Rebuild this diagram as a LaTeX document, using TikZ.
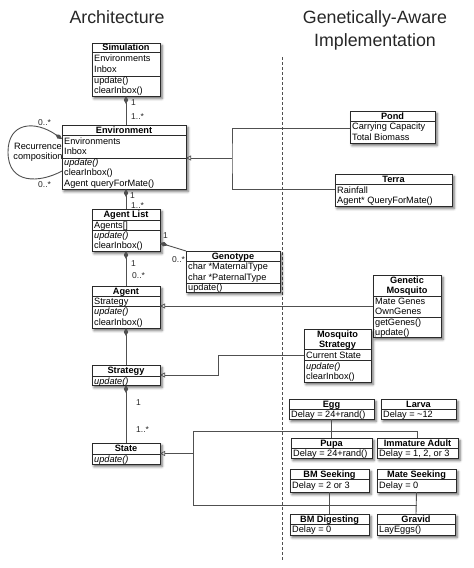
\documentclass[tikz,border=0pt]{standalone}
\usepackage{fontspec}
\setmainfont{Liberation Sans}
\usetikzlibrary{arrows.meta,shadows.blur,calc}
\definecolor{ln}{HTML}{505050}
\definecolor{bd}{HTML}{2A2A2A}
\tikzset{
  umlbox/.style={draw=bd, line width=0.9pt, fill=white, inner sep=0pt, outer sep=0pt,
    blur shadow={shadow xshift=2pt, shadow yshift=-2.5pt, shadow blur radius=2.5pt, shadow opacity=60}},
  sepline/.style={draw=bd, line width=0.8pt},
  row/.style={anchor=west, inner sep=0pt, text height=6.4pt, text depth=0pt, text=black,
    font=\fontsize{9.2}{10}\selectfont},
  ttl/.style={anchor=center, inner sep=0pt, text height=6.4pt, text depth=0pt, text=black,
    font=\bfseries\fontsize{9.2}{10}\selectfont},
  conn/.style={draw=ln, line width=0.9pt},
  gen/.style={conn, -{Triangle[open, length=5pt, width=5pt, line width=0.7pt]}},
  comp/.style={conn, {Diamond[length=8pt, width=4.5pt]}-},
  mult/.style={anchor=center, inner sep=0pt, text height=6.4pt, text depth=0pt, text=black!85,
    font=\fontsize{8.5}{10}\selectfont},
  bigttl/.style={anchor=base, inner sep=0pt, text=black!85, font=\fontsize{17.8}{23}\selectfont},
  sepdash/.style={draw=ln, line width=0.9pt, dash pattern=on 3pt off 2pt}
}
\newcommand{\umlbox}[5]{\node[umlbox, minimum width={(#4-#2)*1pt}, minimum height={(#5-#3)*1pt}, anchor=north west] (#1) at (#2,#3) {};}
\newcommand{\usep}[2]{\draw[sepline] (#1.west |- 0,#2) -- (#1.east |- 0,#2);}
\newcommand{\utitle}[4]{\node[ttl] (#1) at (#2.north |- 0,#3) {#4};}
\newcommand{\urows}[2]{\foreach \yy/\txt [count=\i] in {#2} {\node[row, xshift=2pt] (#1-\i) at (#1.west |- 0,\yy) {\txt};}}
\begin{document}
\begin{tikzpicture}[x=1pt,y=-1pt]
\useasboundingbox (0,0) rectangle (474,568);

% headings
\node[bigttl] (tA) at (117,23.3) {Architecture};
\node[bigttl] (tB1) at (375,23.3) {Genetically-Aware};
\node[bigttl] (tB2) at (375,46.3) {Implementation};

% dashed divider
\coordinate (dtop) at (282,57);
\coordinate (dbot) at (282,560);
\draw[sepdash] (dtop) -- (dbot);

\coordinate (ej) at (232,158);
\coordinate (sk) at (218,355);
\coordinate (st) at (193,431);
\coordinate (sb) at (193,505);

% ---------- boxes ----------
\umlbox{sim}{92}{43}{160}{96}
\usep{sim}{52}\usep{sim}{76}
\utitle{sim-t}{sim}{47.5}{Simulation}
\urows{sim}{58.5/Environments, 69/Inbox, 80.5/update(), 90.5/clearInbox()}

\umlbox{env}{62}{125}{186}{189}
\usep{env}{135}\usep{env}{158}
\utitle{env-t}{env}{130}{Environment}
\urows{env}{141/Environments, 151.5/Inbox, 162/{\itshape update()}, 172.5/clearInbox(), 183/Agent queryForMate()}

\umlbox{alist}{92}{209}{160}{251}
\usep{alist}{220}\usep{alist}{230}
\utitle{alist-t}{alist}{214.5}{Agent List}
\urows{alist}{225/Agents[], 235/{\itshape update()}, 245.5/clearInbox()}

\umlbox{geno}{186}{251}{280}{292}
\usep{geno}{261}\usep{geno}{283}
\utitle{geno-t}{geno}{256}{Genotype}
\urows{geno}{266.5/char *MaternalType, 277/char *PaternalType, 287.5/update()}

\umlbox{agent}{92}{286}{160}{328}
\usep{agent}{296}\usep{agent}{306}
\utitle{agent-t}{agent}{291}{Agent}
\urows{agent}{301/Strategy, 311.5/{\itshape update()}, 322/clearInbox()}

\umlbox{gmos}{373}{275}{441}{337}
\usep{gmos}{296}\usep{gmos}{317}
\utitle{gmos-t1}{gmos}{280}{Genetic}
\utitle{gmos-t2}{gmos}{290.5}{Mosquito}
\urows{gmos}{301/Mate Genes, 311.5/OwnGenes, 322/getGenes(), 332/update()}

\umlbox{mstrat}{304}{329}{371}{382}
\usep{mstrat}{349}\usep{mstrat}{360}
\utitle{mstrat-t1}{mstrat}{334}{Mosquito}
\utitle{mstrat-t2}{mstrat}{344}{Strategy}
\urows{mstrat}{355/Current State, 366/{\itshape update()}, 376.5/clearInbox()}

\umlbox{strat}{92}{365}{160}{385}
\usep{strat}{376}
\utitle{strat-t}{strat}{370.5}{Strategy}
\urows{strat}{381/{\itshape update()}}

\umlbox{state}{92}{443}{160}{464}
\usep{state}{454}
\utitle{state-t}{state}{448.5}{State}
\urows{state}{459/{\itshape update()}}

\umlbox{pond}{350}{111}{435}{143}
\usep{pond}{121}
\utitle{pond-t}{pond}{116}{Pond}
\urows{pond}{126.5/Carrying Capacity, 137/Total Biomass}

\umlbox{terra}{335}{174}{452}{206}
\usep{terra}{184}
\utitle{terra-t}{terra}{179}{Terra}
\urows{terra}{190/Rainfall, 200.5/Agent* QueryForMate()}

\umlbox{egg}{289}{399}{374}{419}
\usep{egg}{409}
\utitle{egg-t}{egg}{404}{Egg}
\urows{egg}{414/Delay = 24+rand()}

\umlbox{larva}{381}{399}{456}{419}
\usep{larva}{409}
\utitle{larva-t}{larva}{404}{Larva}
\urows{larva}{414/Delay = \textasciitilde12}

\umlbox{pupa}{291}{438}{372}{458}
\usep{pupa}{448}
\utitle{pupa-t}{pupa}{443}{Pupa}
\urows{pupa}{453/Delay = 24+rand()}

\umlbox{imm}{377}{438}{458}{458}
\usep{imm}{448}
\utitle{imm-t}{imm}{443}{Immature Adult}
\urows{imm}{453/{Delay = 1, 2, or 3}}

\umlbox{bms}{290}{469}{369}{492}
\usep{bms}{479}
\utitle{bms-t}{bms}{474}{BM Seeking}
\urows{bms}{485.5/Delay = 2 or 3}

\umlbox{mates}{377}{469}{456}{492}
\usep{mates}{479}
\utitle{mates-t}{mates}{474}{Mate Seeking}
\urows{mates}{485.5/Delay = 0}

\umlbox{bmd}{290}{514}{369}{535}
\usep{bmd}{524}
\utitle{bmd-t}{bmd}{519}{BM Digesting}
\urows{bmd}{529.5/Delay = 0}

\umlbox{gravid}{377}{514}{455}{535}
\usep{gravid}{524}
\utitle{gravid-t}{gravid}{519}{Gravid}
\urows{gravid}{529.5/LayEggs()}

% ---------- connectors ----------
\draw[comp] (sim.south) -- (sim.south |- env.north);
\draw[comp] (env.south -| alist.north) -- (alist.north);
\draw[comp] (alist.south) -- (agent.north);
\draw[comp] (agent.south) -- (strat.north);
\draw[comp] (strat.south) -- (state.north);
\draw[comp] (alist.east |- 0,243) -- (geno.north west);
\draw[comp] (env.west |- 0,139) .. controls (35,120) and (8,122) .. (8,152)
   .. controls (8,185) and (40,183) .. (env.west |- 0,171);

\draw[conn] (pond.west |- 0,128) -| (ej) |- (terra.west |- 0,189);
\draw[gen] (ej) -- (env.east |- ej);
\draw[gen] (gmos.west |- 0,306) -- (agent.east |- 0,306);
\draw[gen] (mstrat.west |- sk) -- (sk) |- (strat.east);

\draw[conn] (imm.north |- st) -- (st) -- (sb) -- (mates.south |- sb);
\draw[gen] (st |- state.east) -- (state.east);
\draw[conn] (egg.south) -- (pupa.north);
\draw[conn] (imm.north |- st) -- (imm.north);
\draw[conn] (bms.south) -- (bmd.north);
\draw[conn] (mates.south) -- (gravid.north);

% ---------- labels ----------
\node[font=\fontsize{9.2}{10}\selectfont, inner sep=0pt, text height=6.4pt, text depth=0pt, text=black] (rec1) at (38,146) {Recurrence};
\node[font=\fontsize{9.2}{10}\selectfont, inner sep=0pt, text height=6.4pt, text depth=0pt, text=black] (rec2) at (38,156.5) {composition};

\node[mult, anchor=west] (m1) at (131,102) {1};
\node[mult, anchor=west] (m2) at (131,116) {1..*};
\node[mult, anchor=west] (m3) at (38,122) {0..*};
\node[mult, anchor=west] (m4) at (38,184) {0..*};
\node[mult, anchor=west] (m5) at (130,195) {1};
\node[mult, anchor=west] (m6) at (131,205) {1..*};
\node[mult, anchor=west] (m7) at (163,235) {1};
\node[mult, anchor=west] (m8) at (172,259) {0..*};
\node[mult, anchor=west] (m9) at (131,263) {1};
\node[mult, anchor=west] (m10) at (132,275) {0..*};
\node[mult, anchor=west] (m11) at (136,402) {1};
\node[mult, anchor=west] (m12) at (136,429) {1..*};
\end{tikzpicture}
\end{document}
